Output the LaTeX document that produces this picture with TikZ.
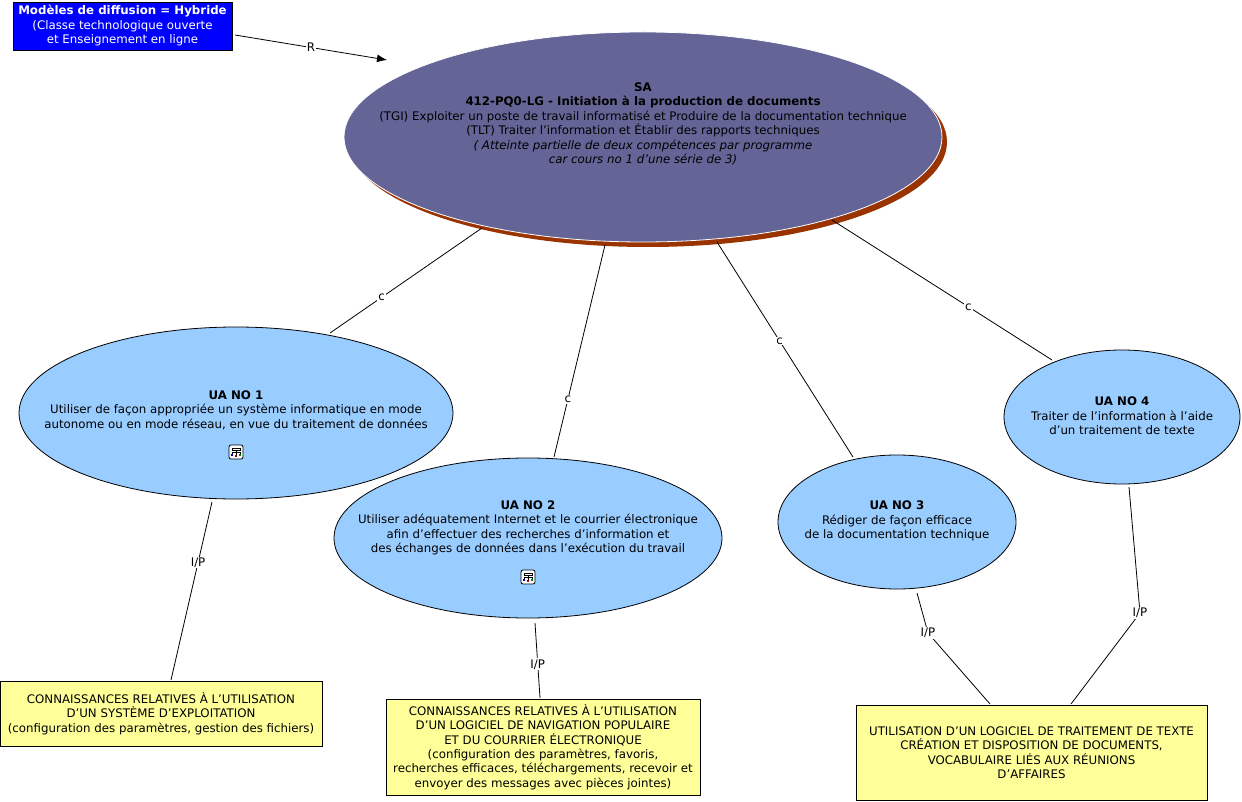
\documentclass[tikz,border=0pt]{standalone}
\usepackage{fontspec}
\setmainfont{DejaVu Sans}
\usetikzlibrary{shapes.geometric,arrows.meta}
\definecolor{saf}{HTML}{646496}
\definecolor{uaf}{HTML}{99CCFF}
\definecolor{boxf}{HTML}{FFFF99}
\definecolor{shad}{HTML}{993300}
\begin{document}
\begin{tikzpicture}[x=1pt,y=-1pt,line width=0.8pt,
  every node/.style={font=\fontsize{11.8}{14.5}\selectfont,align=center},
  ell/.style={ellipse,draw,fill=uaf,inner sep=0pt},
  box/.style={draw,fill=boxf,inner sep=2pt,anchor=north west},
  lab/.style={fill=white,inner sep=1pt,font=\fontsize{11.8}{12}\selectfont}]
\useasboundingbox (0,0) rectangle (1242,802);
% SA
\fill[shad] (648,142) ellipse [x radius=299, y radius=105];
\node[ellipse,draw=white,fill=saf,minimum width=598,minimum height=210,inner sep=0pt] (sa) at (643,137) {};
\node at (643,124) {\textbf{SA}\\\textbf{412-PQ0-LG - Initiation à la production de documents}\\(TGI) Exploiter un poste de travail informatisé et Produire de la documentation technique\\(TLT) Traiter l'information et Établir des rapports techniques\\\textit{( Atteinte partielle de deux compétences par programme}\\\textit{car cours no 1 d'une série de 3)}};
% top box
\node[draw,fill=blue,text=white,minimum width=219,minimum height=48,inner sep=0pt] (hy) at (122.5,26) {\textbf{Modèles de diffusion = Hybride}\\(Classe technologique ouverte\\et Enseignement en ligne};
% UAs
\node[ell,minimum width=434,minimum height=172] (u1) at (236,413) {};
\node at (236,410) {\textbf{UA NO 1}\\Utiliser de façon appropriée un système informatique en mode\\autonome ou en mode réseau, en vue du traitement de données};
\node[ell,minimum width=388,minimum height=160] (u2) at (528,538) {};
\node at (528,528) {\textbf{UA NO 2}\\Utiliser adéquatement Internet et le courrier électronique\\afin d'effectuer des recherches d'information et\\des échanges de données dans l'exécution du travail};
\node[ell,minimum width=238,minimum height=134] (u3) at (897,522) {};
\node at (897,521) {\textbf{UA NO 3}\\Rédiger de façon efficace\\de la documentation technique};
\node[ell,minimum width=236,minimum height=134] (u4) at (1122,417) {};
\node at (1122,416) {\textbf{UA NO 4}\\Traiter de l'information à l'aide\\d'un traitement de texte};
% icons
\foreach \n/\x/\y in {i1/236/452,i2/528/577}{
  \node[draw,rounded corners=2pt,fill=white,minimum size=14,inner sep=0pt] (\n) at (\x,\y) {};
  \draw[line width=0.5pt] (\x-4,\y-4) rectangle (\x+4,\y-2) (\x,\y-2)--(\x,\y+3) (\x-4,\y)--(\x+4,\y) (\x-4,\y)--(\x-4,\y+2) (\x+4,\y)--(\x+4,\y+2);
  \fill[blue!70!black] (\x-5,\y+2) rectangle (\x-3,\y+4);
  \fill[green!50!black] (\x+3,\y+2) rectangle (\x+5,\y+4);
  \fill[red!60!black] (\x-1,\y+3) rectangle (\x+1,\y+5);
}
% boxes
\node[box,minimum width=322,minimum height=65] (b1) at (0,681) {};
\node at (161,713.5) {CONNAISSANCES RELATIVES À L'UTILISATION\\D'UN SYSTÈME D'EXPLOITATION\\(configuration des paramètres, gestion des fichiers)};
\node[box,minimum width=314,minimum height=96] (b2) at (386,699) {};
\node at (543,747) {CONNAISSANCES RELATIVES À L'UTILISATION\\D'UN LOGICIEL DE NAVIGATION POPULAIRE\\ET DU COURRIER ÉLECTRONIQUE\\(configuration des paramètres, favoris,\\recherches efficaces, téléchargements, recevoir et\\envoyer des messages avec pièces jointes)};
\node[box,minimum width=351,minimum height=95] (b3) at (856,705) {};
\node at (1031.5,752.5) {UTILISATION D'UN LOGICIEL DE TRAITEMENT DE TEXTE\\CRÉATION ET DISPOSITION DE DOCUMENTS,\\VOCABULAIRE LIÉS AUX RÉUNIONS\\D'AFFAIRES};
% connectors
\coordinate (r1) at (235,35); \coordinate (r2) at (387,60);
\draw[-{Latex[length=10pt,width=8pt]}] (r1) -- node[lab,pos=0.5]{R} (r2);
\coordinate (c1a) at (482,228); \coordinate (c1b) at (330,333);
\draw (c1a) -- node[lab,pos=0.66]{c} (c1b);
\coordinate (c2a) at (605,245); \coordinate (c2b) at (554,457);
\draw (c2a) -- node[lab,pos=0.73]{c} (c2b);
\coordinate (c3a) at (717,242); \coordinate (c3b) at (853,457);
\draw (c3a) -- node[lab,pos=0.46]{c} (c3b);
\coordinate (c4a) at (832,220); \coordinate (c4b) at (1052,360);
\draw (c4a) -- node[lab,pos=0.62]{c} (c4b);
\coordinate (p1a) at (212,502); \coordinate (p1b) at (171,680);
\draw (p1a) -- node[lab,pos=0.34]{I/P} (p1b);
\coordinate (p2a) at (535,623); \coordinate (p2b) at (540,698);
\draw (p2a) -- node[lab,pos=0.55]{I/P} (p2b);
\coordinate (p3a) at (917,593); \coordinate (p3m) at (928,633); \coordinate (p3b) at (990,704);
\draw (p3a) -- (p3m) -- (p3b);
\node[lab] at (p3m) {I/P};
\coordinate (p4a) at (1129,487); \coordinate (p4m) at (1140,613); \coordinate (p4b) at (1071,704);
\draw (p4a) -- (p4m) -- (p4b);
\node[lab] at (p4m) {I/P};
\end{tikzpicture}
\end{document}
